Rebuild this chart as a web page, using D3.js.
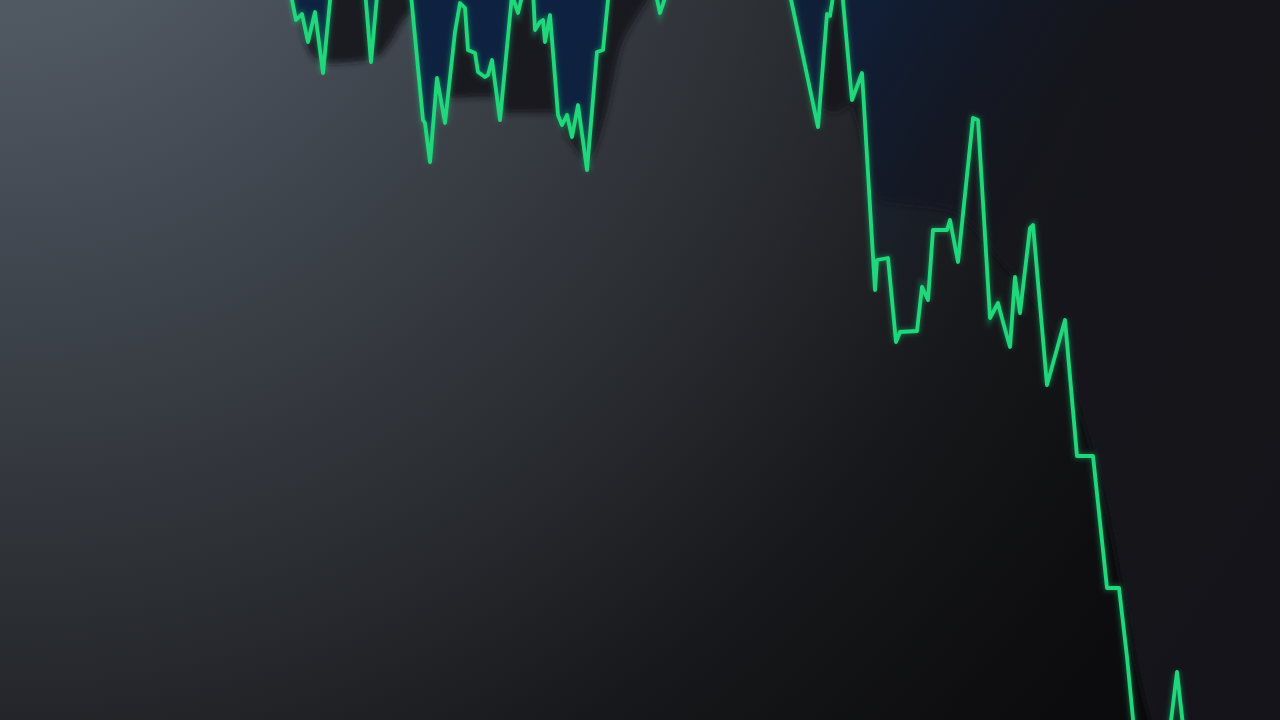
<!DOCTYPE html>
<html><head><meta charset="utf-8">
<script src="https://cdn.jsdelivr.net/npm/d3@7/dist/d3.min.js"></script>
<style>html,body{margin:0;padding:0;background:#0a0a0b;overflow:hidden}svg{display:block}</style>
</head><body>
<script>
// time axis (arbitrary units) and price values
const times = [67.5,72,74,75.5,77,78.75,80.75,83.25,87.5,91.25,92.75,94.5,98.75,102.75,105.75,106.25,107.5,109.25,111.25,113.75,115,116.25,117,118.75,119.5,121.25,122,123,125,128,129.5,131,133.25,133.75,135,135.75,136.25,137.5,139.5,140.5,141.75,143,144.5,146.75,149.25,150.75,152.25,157.5,164,165,166.75,175,187.5,197.25,204.5,206.75,207.5,208.5,210.5,213,215.5,218.75,219.25,222,224,225,229.25,230.5,232,233.25,236.75,237.5,239.5,243.25,244.5,247.5,249.5,250.75,252.5,253.75,255,257.5,258.25,261.75,266.25,269.25,273.25,276.75,279.75,281.75,284.25,291.25,294.25,297,322.5];
const prices = [107.5,102.5,97.5,98.25,94.75,98.5,90.875,103.75,106.25,101.25,92.25,101.875,105,100.625,85,84.625,79.75,90.25,84.625,96,99.625,99,93.75,93.375,91,90.375,90.625,92.5,85,100.625,98.375,101.5,101.25,96.25,97.25,97.5,94.75,98.125,85.625,84.375,85.625,82.875,86.875,78.75,93.5,93.75,101.25,105,100.625,98.375,101,106.25,107.5,101.25,84.125,98.25,98,101.25,101.25,87.5,90.875,63.75,67.5,67.75,57.25,58.5,58.625,64.125,62.5,71.25,71.25,72.5,67.25,85.25,85,60.25,62.125,59.75,56.625,65.375,60.875,71.5,71.875,51.875,60,43,43,26.5,26.5,17.875,5,3.75,16,3.75,0];
// lower edge of the cast shadow under the filled band
const shadowTimes = [74.5,76.25,79.5,82.5,87.5,91.75,95,98,101.25,103.75,106.25,110,115,120,124.25,126.25,132.5,138.25,142.5,147,150,151.75,155,158.75,162.5,165,197.5,203.75,208.75,212.5,220,237.5,250,262.5,275,287.5,300,322.5];
const shadowPrices = [101.5,95,92.5,92.125,92.25,92.5,93.125,95,97.75,98.5,92.5,88.125,87.75,87.875,87.875,85.875,85.875,85.875,82.5,80,83.125,86.25,93.75,97.5,100.5,103,103,87.5,86,86.875,75,73.75,67.5,58.75,40,10,0,0];

const W = 1280, H = 720;
const x = d3.scaleLinear().domain([0, 320]).range([0, W]);
const y = d3.scaleLinear().domain([10, 100]).range([H, 0]);

const svg = d3.select("body").append("svg").attr("width", W).attr("height", H);
const defs = svg.append("defs");

const bg = defs.append("radialGradient").attr("id", "bg")
  .attr("gradientUnits", "userSpaceOnUse").attr("cx", 0).attr("cy", -200).attr("r", 1560);
[[0,"#5a636e"],[0.15,"#4f5761"],[0.32,"#3e444c"],[0.5,"#2d3035"],[0.7,"#17181b"],[0.85,"#0e0e10"],[1,"#09090a"]]
  .forEach(([o,c]) => bg.append("stop").attr("offset", o).attr("stop-color", c));

const fillG = defs.append("linearGradient").attr("id", "fillG")
  .attr("gradientUnits", "userSpaceOnUse").attr("x1", 600).attr("y1", 0).attr("x2", 1000).attr("y2", 250);
[[0,"#0d2242",0.95],[0.5,"#0e2140",0.7],[0.8,"#0e1c34",0.25],[1,"#0d1a30",0]]
  .forEach(([o,c,op]) => fillG.append("stop").attr("offset", o).attr("stop-color", c).attr("stop-opacity", op));

const blur = defs.append("filter").attr("id", "soft").attr("x", "-10%").attr("y", "-10%").attr("width", "120%").attr("height", "120%");
blur.append("feGaussianBlur").attr("stdDeviation", 3);

const glow = defs.append("filter").attr("id", "glow").attr("x", "-10%").attr("y", "-10%").attr("width", "120%").attr("height", "120%");
glow.append("feGaussianBlur").attr("stdDeviation", 2.5);

svg.append("rect").attr("width", W).attr("height", H).attr("fill", "url(#bg)");

const shadowData = shadowTimes.map((t, i) => [t, shadowPrices[i]]);
const data = times.map((t, i) => [t, prices[i]]);

svg.append("path").datum(shadowData)
  .attr("d", d3.area().x(d => x(d[0])).y0(y(100) - 20).y1(d => y(d[1])).curve(d3.curveMonotoneX))
  .attr("fill", "#16181c").attr("opacity", 0.9).attr("filter", "url(#soft)");

svg.append("path").datum(data)
  .attr("d", d3.area().x(d => x(d[0])).y0(y(100)).y1(d => y(d[1])))
  .attr("fill", "url(#fillG)");

const line = d3.line().x(d => x(d[0])).y(d => y(d[1]));
svg.append("path").datum(data).attr("d", line)
  .attr("fill", "none").attr("stroke", "#1fe07f").attr("stroke-width", 5.5)
  .attr("stroke-opacity", 0.4).attr("filter", "url(#glow)");
svg.append("path").datum(data).attr("d", line)
  .attr("fill", "none").attr("stroke", "#20d87b").attr("stroke-width", 3.8)
  .attr("stroke-linejoin", "round").attr("stroke-linecap", "round");
</script>
</body></html>
